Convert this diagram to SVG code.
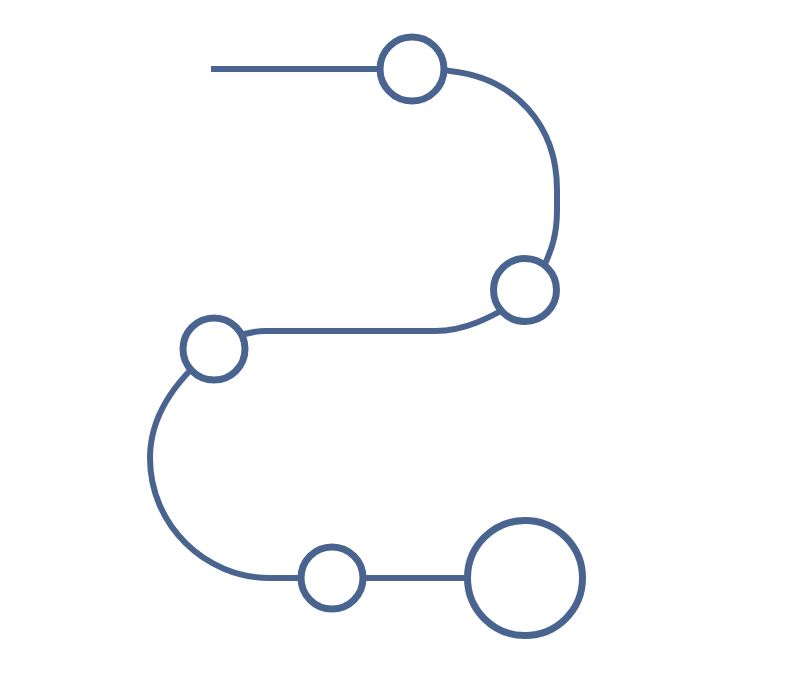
<svg xmlns="http://www.w3.org/2000/svg" width="800" height="696" viewBox="0 0 800 696">
<style>
.c{fill:none;stroke:#4a6490;stroke-width:6;stroke-linecap:butt}
.n{fill:#fff;stroke:#4a6490;stroke-width:7}
</style>
<rect width="800" height="696" fill="#fff"/>
<g id="connectors">
<path class="c" d="M211,69 H412"/>
<path class="c" d="M412,69 C440,69 447,70 450,71 C515,78 557,125 557,190 V210 C557,235 552,250 540,275"/>
<path class="c" d="M520,300 C490,318 465,331 435,331 H265 C250,331 235,335 214,349"/>
<path class="c" d="M214,349 C175,380 150,415 150,458 C150,525 205,578 270,578 H332"/>
<path class="c" d="M332,578 H525"/>
</g>
<g id="node1"><circle class="n" cx="412" cy="69" r="32"/></g>
<g id="node2"><circle class="n" cx="525" cy="290" r="31.5"/></g>
<g id="node3"><circle class="n" cx="214" cy="349" r="31"/></g>
<g id="node4"><circle class="n" cx="332" cy="578" r="31"/></g>
<g id="node5"><circle class="n" cx="525" cy="578" r="57.5"/></g>
</svg>
